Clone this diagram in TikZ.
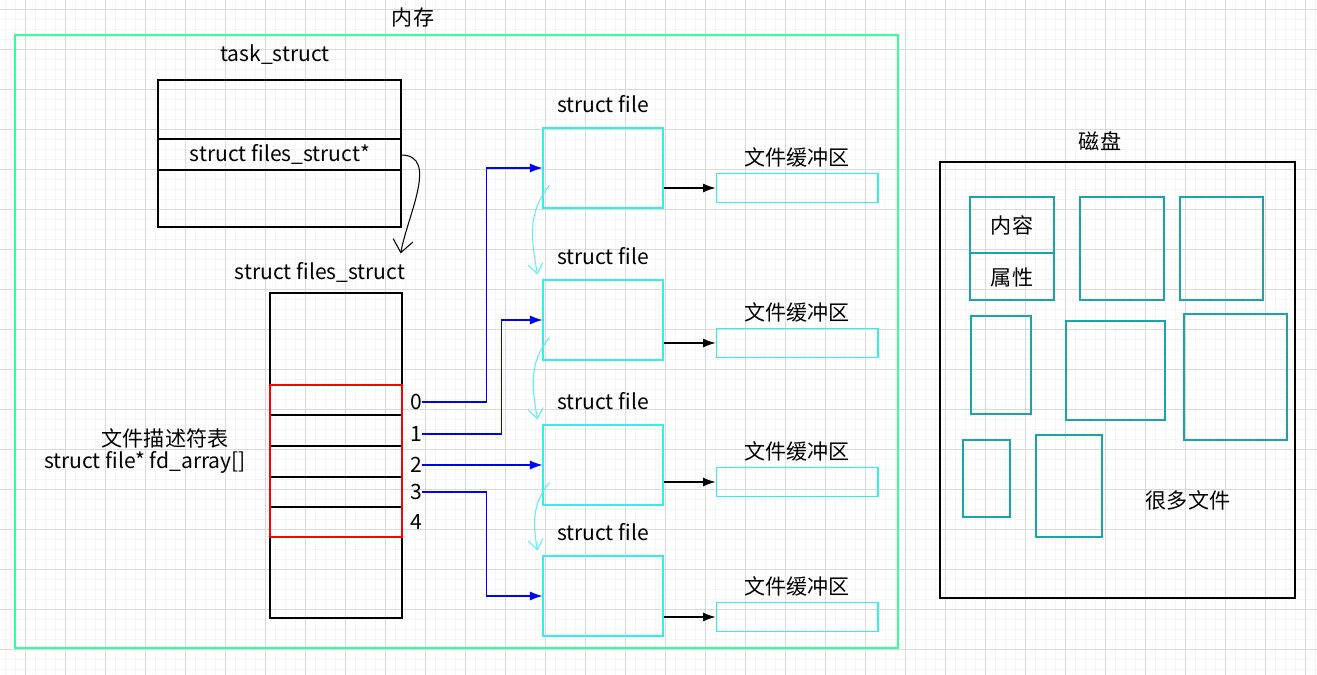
\documentclass[tikz,border=0pt]{standalone}
\usepackage{fontspec}
\setmainfont{Noto Sans CJK SC}
\usetikzlibrary{arrows.meta,positioning,calc}
\definecolor{memgreen}{HTML}{33FF99}
\definecolor{fcyan}{HTML}{33EEEE}
\definecolor{diskteal}{HTML}{1AA3A8}
\tikzset{
  lbl/.style={inner sep=0pt, font=\fontsize{12}{14}\selectfont},
  sfile/.style={draw=fcyan, minimum width=2.4cm, minimum height=1.6cm, inner sep=0pt},
  buf/.style={draw=fcyan, minimum width=3.24cm, minimum height=0.58cm, inner sep=0pt},
  dfile/.style={draw=diskteal, inner sep=0pt},
  ptr/.style={blue, -{Latex[length=2.5mm,width=1.8mm]}},
  nxt/.style={fcyan!80, -{Straight Barb[length=2mm,width=3mm]}},
  arrow/.style={-{Latex[length=2.5mm,width=1.8mm]}}
}
\begin{document}
\begin{tikzpicture}[x=0.02cm,y=-0.02cm, line width=0.6pt]
  \useasboundingbox (0,0) rectangle (1317,675);
  % background grid
  \foreach \x in {5,15,...,1315} \draw[gray!8, line width=0.4pt] (\x,0) -- (\x,675);
  \foreach \y in {9,19,...,669} \draw[gray!8, line width=0.4pt] (0,\y) -- (1317,\y);
  \foreach \x in {25,65,...,1305} \draw[gray!30, line width=0.4pt] (\x,0) -- (\x,675);
  \foreach \y in {9,49,...,649} \draw[gray!30, line width=0.4pt] (0,\y) -- (1317,\y);

  % memory
  \draw[memgreen, line width=0.8pt] (15,35) rectangle (898,648);
  \node[lbl] (mem) at (413,18) {内存};

  % task_struct
  \node[lbl] (tasklbl) at (275,55) {task\_struct};
  \draw (158,80) rectangle (401,227);
  \draw (158,139) -- (401,139);
  \draw (158,170) -- (401,170);
  \node[lbl] (fsptr) at (280,154) {struct files\_struct*};
  \coordinate (fsout) at (401,155);

  % files_struct
  \node[lbl] (fslbl) at (320,272) {struct files\_struct};
  \draw (270,293) rectangle (402,618);
  \foreach \y in {415,446,477,507} \draw (270,\y) -- (402,\y);
  \draw[red] (270,385) rectangle (402,537);
  \node[lbl] (fdlbl) at (165,438) {文件描述符表};
  \node[lbl] (fdarr) at (145,462) {struct file* fd\_array[]};
  \foreach \i/\y in {0/402,1/434,2/465,3/492,4/522}
    \node[lbl] (i\i) at (416,\y) {\i};
  \draw[arrow, -{Straight Barb[length=2.5mm,width=4mm]}] (fsout) to[out=0,in=80] ($(fslbl.north east)+(-5,-8)$);

  % struct file + buffers
  \foreach \n/\y/\b in {1/168/188, 2/320/343, 3/465/482, 4/596/617} {
    \node[sfile] (f\n) at (603,\y) {};
    \node[lbl, above=8pt of f\n] (fl\n) {struct file};
    \node[buf] (b\n) at (797,\b) {};
    \node[lbl, above=3pt of b\n] (bl\n) {文件缓冲区};
    \draw[arrow] (f\n.east|-b\n) -- (b\n.west);
  }
  \foreach \a/\b in {1/2, 2/3, 3/4}
    \draw[nxt] ($(f\a.south west)+(7,-23)$) to[out=230,in=100] ($(f\b.north west)+(-5,-5)$);

  % fd -> file
  \draw[ptr] (i0.east) -| ($(f1.west)+(-56,0)$) -- (f1.west);
  \draw[ptr] (i1.east) -| ($(f2.west)+(-41,0)$) -- (f2.west);
  \draw[ptr] (i2.east) -- (f3.west);
  \draw[ptr] (i3.east) -| ($(f4.west)+(-56,0)$) -- (f4.west);

  % disk
  \node[lbl] (disk) at (1100,141) {磁盘};
  \draw (940,162) rectangle (1295,598);
  \draw[dfile] (970,197) rectangle (1054,300);
  \draw[dfile] (970,253) -- (1054,253);
  \node[lbl] (cont) at (1012,225) {内容};
  \node[lbl] (attr) at (1012,277) {属性};
  \draw[dfile] (1080,197) rectangle (1164,300);
  \draw[dfile] (1180,197) rectangle (1263,300);
  \draw[dfile] (971,316) rectangle (1031,414);
  \draw[dfile] (1066,321) rectangle (1165,420);
  \draw[dfile] (1184,314) rectangle (1287,440);
  \draw[dfile] (963,440) rectangle (1010,517);
  \draw[dfile] (1036,435) rectangle (1102,537);
  \node[lbl] (many) at (1188,500) {很多文件};
\end{tikzpicture}
\end{document}
